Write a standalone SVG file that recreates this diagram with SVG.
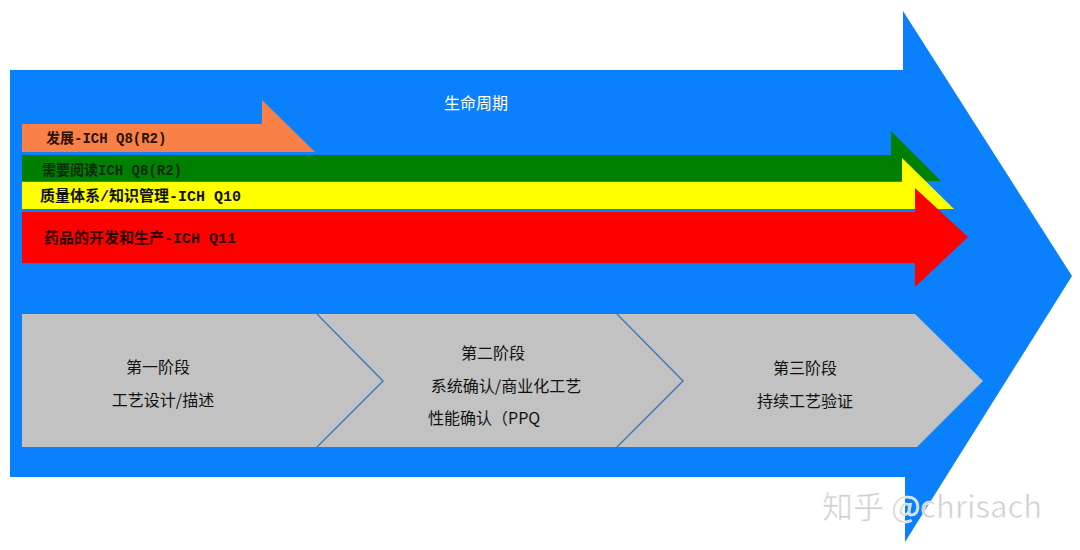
<svg xmlns="http://www.w3.org/2000/svg" width="1080" height="550" viewBox="0 0 1080 550">
  <style>
    .lbl { font-family: "Liberation Mono", "Noto Sans CJK SC", monospace; font-weight: bold; }
    .stage { font-family: "Noto Sans CJK SC", "Noto Sans", sans-serif; font-size: 16px; fill: #111; }
    .mid { text-anchor: middle; }
    .gray { fill: #c2c2c2; }
    .edge { fill: none; stroke: #3f7fb8; stroke-width: 1.5; }
  </style>
  <rect width="1080" height="550" fill="#ffffff"/>

  <g id="lifecycle">
    <polygon points="10,70 903,70 903,11 1072,276 905,542 905,477 10,477" fill="#0a80fc"/>
    <text x="476" y="109" font-family="Noto Sans CJK SC, sans-serif" font-size="16" fill="#ffffff" text-anchor="middle">生命周期</text>
  </g>

  <g id="bar-q8-dev">
    <polygon points="22,124 262,124 262,100 315,152 22,152" fill="#f98147"/>
    <text class="lbl" x="46" y="143" font-size="14" fill="#2a1208">发展-ICH Q8(R2)</text>
  </g>

  <g id="bar-q8-read">
    <polygon points="22,155 891,155 891,131 941,181 22,181" fill="#008000"/>
    <text class="lbl" x="42" y="175" font-size="14" fill="#0b2a0b">需要阅读ICH Q8(R2)</text>
  </g>

  <g id="bar-q10">
    <polygon points="22,182 902,182 902,158 954,209 22,209" fill="#ffff00"/>
    <text class="lbl" x="40" y="201" font-size="15" fill="#111">质量体系/知识管理-ICH Q10</text>
  </g>

  <g id="bar-q11">
    <polygon points="22,212 915,212 915,188 968,237 915,287 915,263 22,263" fill="#ff0000"/>
    <text class="lbl" x="44" y="243" font-size="15" fill="#2a0000">药品的开发和生产-ICH Q11</text>
  </g>

  <g id="stage1">
    <polygon class="gray" points="22,314 317,314 383,381 317,447 22,447"/>
    <text class="stage mid" x="158" y="373">第一阶段</text>
    <text class="stage mid" x="163" y="406">工艺设计/描述</text>
  </g>

  <g id="stage2">
    <polygon class="gray" points="317,314 617,314 683,381 617,447 317,447 383,381"/>
    <text class="stage mid" x="493" y="359">第二阶段</text>
    <text class="stage mid" x="506" y="392">系统确认/商业化工艺</text>
    <text class="stage" x="428" y="424">性能确认（PPQ</text>
  </g>

  <g id="stage3">
    <polygon class="gray" points="617,314 915,314 983,381 917,447 617,447 683,381"/>
    <text class="stage mid" x="805" y="374">第三阶段</text>
    <text class="stage mid" x="805" y="407">持续工艺验证</text>
  </g>

  <g id="connectors">
    <polyline class="edge" points="317,314 383,381 317,447"/>
    <polyline class="edge" points="617,314 683,381 617,447"/>
  </g>

  <g id="watermark">
    <text x="822" y="518" font-family="Noto Sans CJK SC, sans-serif" font-size="31" fill="#cfcfcf" stroke="#ffffff" stroke-width="0.6">知乎 @chrisach</text>
  </g>
</svg>
